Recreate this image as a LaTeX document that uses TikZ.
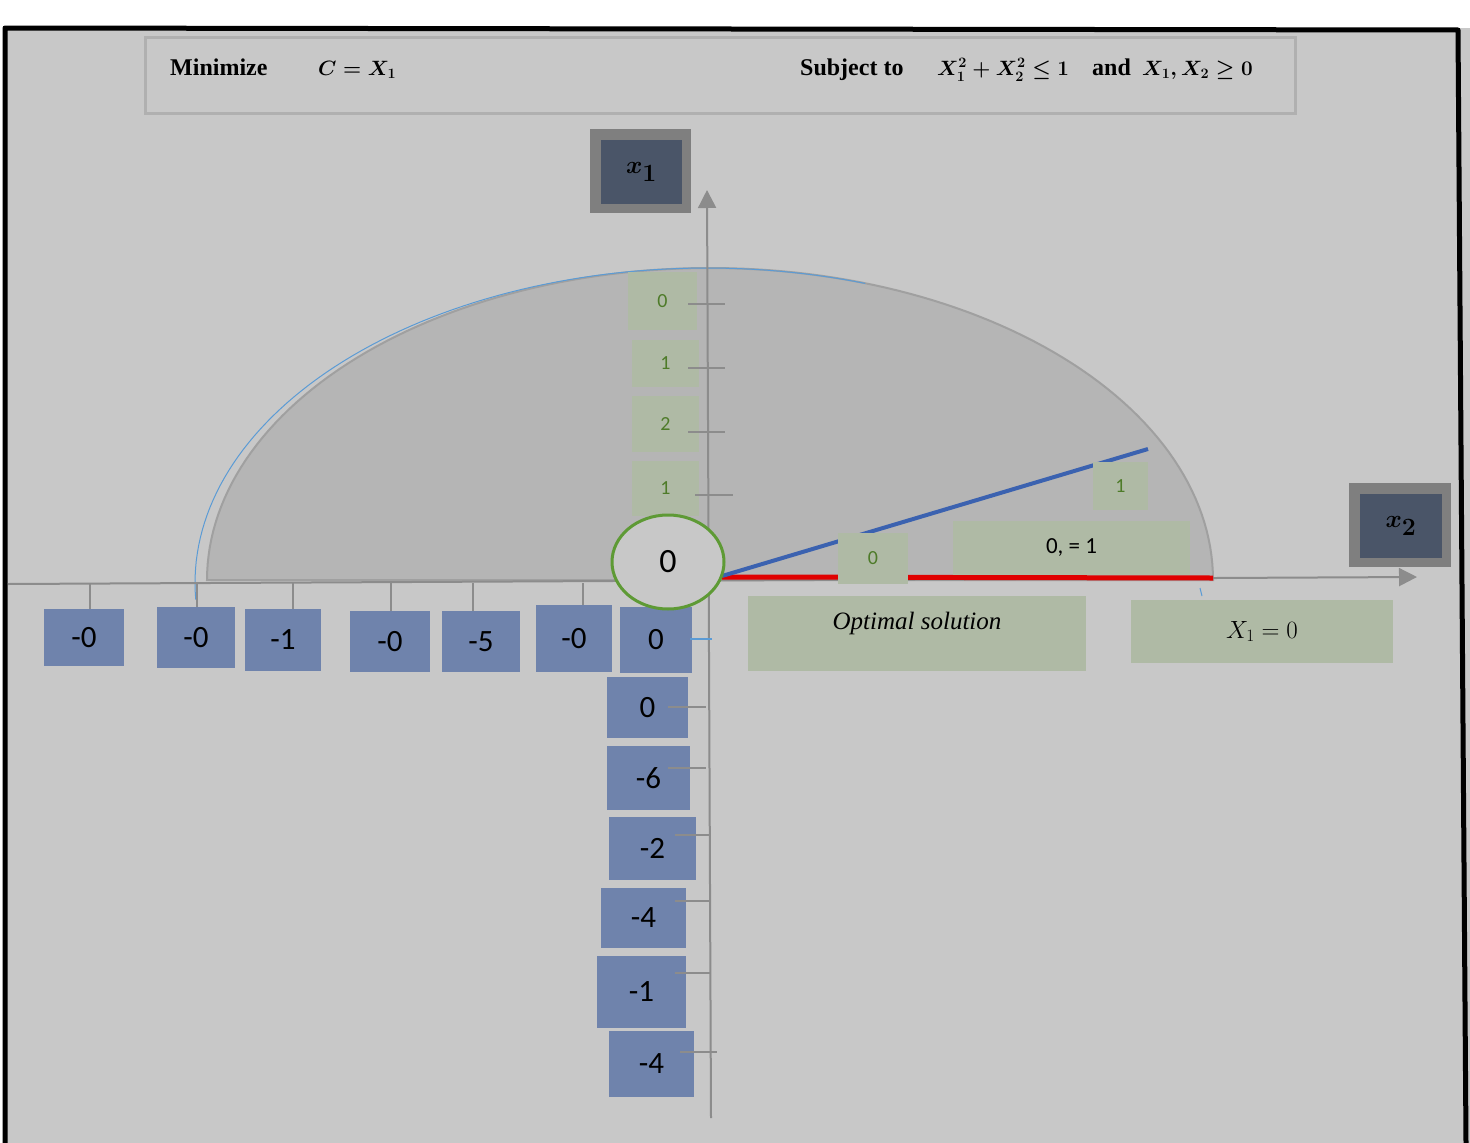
\documentclass[tikz,border=0pt]{standalone}
\usepackage{fontspec}
\usepackage{bm}
\usetikzlibrary{arrows.meta,shapes.geometric,calc}
\setmainfont{Liberation Serif}
\newfontfamily\carl{Carlito}
\definecolor{bggray}{HTML}{C8C8C8}
\definecolor{regiongray}{HTML}{B5B5B5}
\definecolor{regionedge}{HTML}{A0A0A0}
\definecolor{axisgray}{HTML}{8C8C8C}
\definecolor{boxblue}{HTML}{6F83AC}
\definecolor{sage}{HTML}{AFBAA5}
\definecolor{tickgreen}{HTML}{4E7B29}
\definecolor{circgreen}{HTML}{5E9A35}
\definecolor{outerbox}{HTML}{7F7F7F}
\definecolor{slate}{HTML}{4A5568}
\definecolor{lineblue}{HTML}{3B62B0}
\definecolor{arcblue}{HTML}{5B9BD5}
\definecolor{linered}{HTML}{E00000}
\definecolor{hdredge}{HTML}{B0B0B0}
\tikzset{
  bluebox/.style={fill=boxblue,draw=none,inner sep=0pt,text=black,font=\carl\fontsize{31}{34}\selectfont},
  greenbox/.style={fill=sage,draw=none,inner sep=0pt,text=tickgreen,font=\carl\fontsize{20}{22}\selectfont},
  sagebox/.style={fill=sage,draw=none,inner sep=0pt,text=black},
  tickline/.style={draw=axisgray,line width=1.5pt},
  axisline/.style={draw=axisgray,line width=2pt,-{Triangle[length=18pt,width=18pt]}},
  hdr/.style={anchor=base west,inner sep=0pt,font=\fontsize{24}{28}\selectfont\bfseries},
  hdrmath/.style={anchor=base west,inner sep=0pt,font=\fontsize{21.5}{26}\selectfont\boldmath},
  outerlab/.style={fill=outerbox,draw=none,minimum width=101pt,minimum height=84pt,inner sep=0pt},
  innerlab/.style={fill=slate,draw=none,minimum width=81pt,minimum height=64pt,inner sep=0pt,font=\fontsize{33}{35}\selectfont\boldmath}
}
\begin{document}
\begin{tikzpicture}[x=1pt,y=-1pt]
\useasboundingbox (0,0) rectangle (1470,1143);
% background and frame
\fill[bggray] (5,28) rectangle (1470,1143);
\draw[black,line width=5pt,line join=round] (5,1143) -- (5,28) -- (1458,30) -- (1466,1143);
% header
\node[draw=hdredge,line width=3pt,fill=bggray,minimum width=1150pt,minimum height=76pt,inner sep=0pt] (hdrbox) at (720,75) {};
\node[hdr] (tmin) at (170,75) {Minimize};
\node[hdrmath] (tobj) at (318,75) {$C = X_1$};
\node[hdr] (tsub) at (800,75) {Subject to};
\node[hdrmath] (tcon) at (937,75) {$X_1^2 + X_2^2 \leq 1$};
\node[hdr] (tand) at (1092,75) {and};
\node[hdrmath] (tand2) at (1142,75) {$X_1, X_2 \geq 0$};
% feasible region
\filldraw[fill=regiongray,draw=regionedge,line width=2pt] plot[domain=0:180,samples=120] ({710+503*cos(\x)},{580-312*sin(\x)}) -- cycle;
\draw[arcblue,line width=1pt] plot[domain=72:183,samples=80] ({707+512*cos(\x)},{583-315*sin(\x)});
\draw[arcblue,line width=1pt] (1200,588) -- (1202,596);
% axes
\coordinate (hstart) at (8,584);
\coordinate (hend) at (1417,577);
\coordinate (vstart) at (711,1118);
\coordinate (vend) at (707,190);
\draw[axisline] (hstart) -- (hend);
\draw[axisline] (vstart) -- (vend);
% objective lines
\coordinate (orig) at (722,577);
\coordinate (bluestart) at (722,576);
\coordinate (bluend) at (1148,449);
\coordinate (redend) at (1213,578);
\draw[linered,line width=5pt] (orig) -- (redend);
\draw[lineblue,line width=4pt] (bluestart) -- (bluend);
% green tick labels
\node[greenbox,minimum width=69pt,minimum height=58pt] (g0) at (662.5,301) {0};
\node[greenbox,minimum width=67pt,minimum height=47pt] (g1) at (665.5,363.5) {1};
\node[greenbox,minimum width=67pt,minimum height=56pt] (g2) at (665.5,424) {2};
\node[greenbox,minimum width=67pt,minimum height=55pt] (g3) at (665.5,488.5) {1};
\draw[tickline] (688,304) -- (725,304);
\draw[tickline] (688,368) -- (725,368);
\draw[tickline] (688,432) -- (725,432);
\draw[tickline] (695,495) -- (733,495);
\node[greenbox,minimum width=70pt,minimum height=51pt] (gz) at (873,558.5) {0};
\node[greenbox,minimum width=55pt,minimum height=48pt] (gone) at (1120.5,486) {1};
\node[sagebox,minimum width=237pt,minimum height=54pt,font=\carl\fontsize{23}{25}\selectfont] (geq) at (1071.5,548) {0, = 1};
\node[sagebox,minimum width=338pt,minimum height=75pt] (gopt) at (917,633.5) {};
\node[inner sep=0pt,font=\fontsize{25}{27}\selectfont\itshape] (topt) at ($(gopt.center)+(0,-10)$) {Optimal solution};
\node[sagebox,minimum width=262pt,minimum height=63pt,font=\fontsize{23}{25}\selectfont] (gx) at (1262,631.5) {$X_1 = 0$};
% horizontal negative labels
\node[bluebox,minimum width=80pt,minimum height=57pt] (h1) at (84,637.5) {-0};
\node[bluebox,minimum width=78pt,minimum height=61pt] (h2) at (196,637.5) {-0};
\node[bluebox,minimum width=76pt,minimum height=62pt] (h3) at (283,640) {-1};
\node[bluebox,minimum width=80pt,minimum height=61pt] (h4) at (390,641.5) {-0};
\node[bluebox,minimum width=78pt,minimum height=61pt] (h5) at (481,641.5) {-5};
\node[bluebox,minimum width=76pt,minimum height=67pt] (h6) at (574,638.5) {-0};
\node[bluebox,minimum width=72pt,minimum height=66pt] (h7) at (656,640) {0};
\foreach \n/\xx in {h1/90,h2/197,h3/293,h4/391,h5/473,h6/583}{
  \draw[tickline] (\xx,583) -- (\xx,0 |- \n.north);
}
\draw[arcblue,line width=1.5pt] (690,639) -- (712,639);
% vertical negative labels
\node[bluebox,minimum width=81pt,minimum height=61pt] (v1) at (647.5,707.5) {0};
\node[bluebox,minimum width=83pt,minimum height=64pt] (v2) at (648.5,778) {-6};
\node[bluebox,minimum width=87pt,minimum height=63pt] (v3) at (652.5,848.5) {-2};
\node[bluebox,minimum width=85pt,minimum height=60pt] (v4) at (643.5,918) {-4};
\node[bluebox,minimum width=89pt,minimum height=72pt] (v5) at (641.5,992) {-1};
\node[bluebox,minimum width=85pt,minimum height=66pt] (v6) at (651.5,1064) {-4};
\draw[tickline] (668,707) -- (706,707);
\draw[tickline] (668,768) -- (706,768);
\draw[tickline] (675,835) -- (710,835);
\draw[tickline] (675,901) -- (710,901);
\draw[tickline] (675,973) -- (710,973);
\draw[tickline] (680,1052) -- (717,1052);
% origin circle
\node[ellipse,draw=circgreen,line width=3pt,fill=bggray,minimum width=112pt,minimum height=94pt,inner sep=0pt,font=\carl\fontsize{34}{36}\selectfont] (origin) at (668,562) {0};
% axis labels
\node[outerlab] (x1out) at (640.5,171) {};
\node[innerlab] (x1in) at (641.5,172) {$x_1$};
\node[outerlab,minimum width=102pt] (x2out) at (1400,525) {};
\node[innerlab,minimum width=82pt] (x2in) at (1401,526) {$x_2$};
\end{tikzpicture}
\end{document}
